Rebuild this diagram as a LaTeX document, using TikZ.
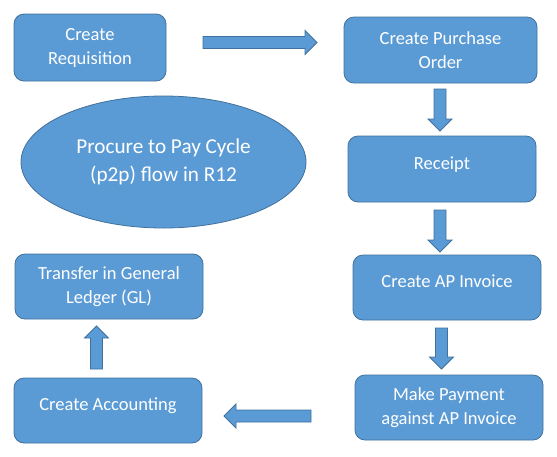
\documentclass[tikz,border=0pt]{standalone}
\usepackage{fontspec}
\setmainfont{Carlito}
\usetikzlibrary{calc,shapes.geometric}
\definecolor{boxfill}{HTML}{5B9BD5}
\definecolor{boxline}{HTML}{41719C}
% Mũi tên khối từ #1 đến #2
\newcommand{\blockarrow}[2]{%
  \coordinate (bh) at ($(#2)!12pt!(#1)$);
  \filldraw[fill=boxfill,draw=boxline,line width=0.8pt]
    ($(#1)!6pt!90:(#2)$) -- ($(bh)!6pt!90:(#2)$) -- ($(bh)!12pt!90:(#2)$) -- (#2)
    -- ($(bh)!12pt!-90:(#2)$) -- ($(bh)!6pt!-90:(#2)$) -- ($(#1)!6pt!-90:(#2)$) -- cycle;}
\begin{document}
\begin{tikzpicture}[x=1pt,y=-1pt,
    box/.style={draw=boxline,fill=boxfill,line width=0.8pt,rounded corners=10pt,
      minimum width=188pt,minimum height=65pt,inner sep=0pt,text=white,align=center,
      font=\fontsize{18.5pt}{24pt}\selectfont},
    oneline/.style={text height=12pt,text depth=12pt},
    cycletitle/.style={ellipse,draw=boxline,fill=boxfill,line width=0.8pt,
      minimum width=285pt,minimum height=132pt,inner sep=0pt,text=white,align=center,
      font=\fontsize{21.2pt}{28pt}\selectfont}]
    \useasboundingbox (0,0) rectangle (557,456);
    % Vẽ các hộp
    \node[box,minimum width=152pt,minimum height=67pt] (req) at (90,47.5) {Create\\Requisition};
    \node[box,minimum width=193pt,minimum height=66pt] (po) at (440.5,50) {Create Purchase\\Order};
    \node[box,oneline,minimum height=66pt] (rec) at (442,169) {Receipt};
    \node[box,oneline] (inv) at (447,287.5) {Create AP Invoice};
    \node[box] (pay) at (449,407.5) {Make Payment\\against AP Invoice};
    \node[box,oneline] (acc) at (108,410.5) {Create Accounting};
    \node[box] (gl) at (109,286.5) {Transfer in General\\Ledger (GL)};
    
    % Hình elip ở giữa
    \node[cycletitle] (p2p) at (163.5,162) {Procure to Pay Cycle\\(p2p) flow in R12};
    
    % Điểm đầu và cuối các mũi tên
    \coordinate (a1s) at (203,42.5);  \coordinate (a1e) at (317,42.5);
    \coordinate (a2s) at (440,89);    \coordinate (a2e) at (440,131);
    \coordinate (a3s) at (440,210);   \coordinate (a3e) at (440,252);
    \coordinate (a4s) at (441.5,328); \coordinate (a4e) at (441.5,369);
    \coordinate (a5s) at (311,416);   \coordinate (a5e) at (224,416);
    \coordinate (a6s) at (96.5,369);  \coordinate (a6e) at (96.5,326);
    
    % Vẽ các mũi tên
    \foreach \s/\e in {a1s/a1e,a2s/a2e,a3s/a3e,a4s/a4e,a5s/a5e,a6s/a6e}
    {\blockarrow{\s}{\e}}
\end{tikzpicture}
\end{document}
